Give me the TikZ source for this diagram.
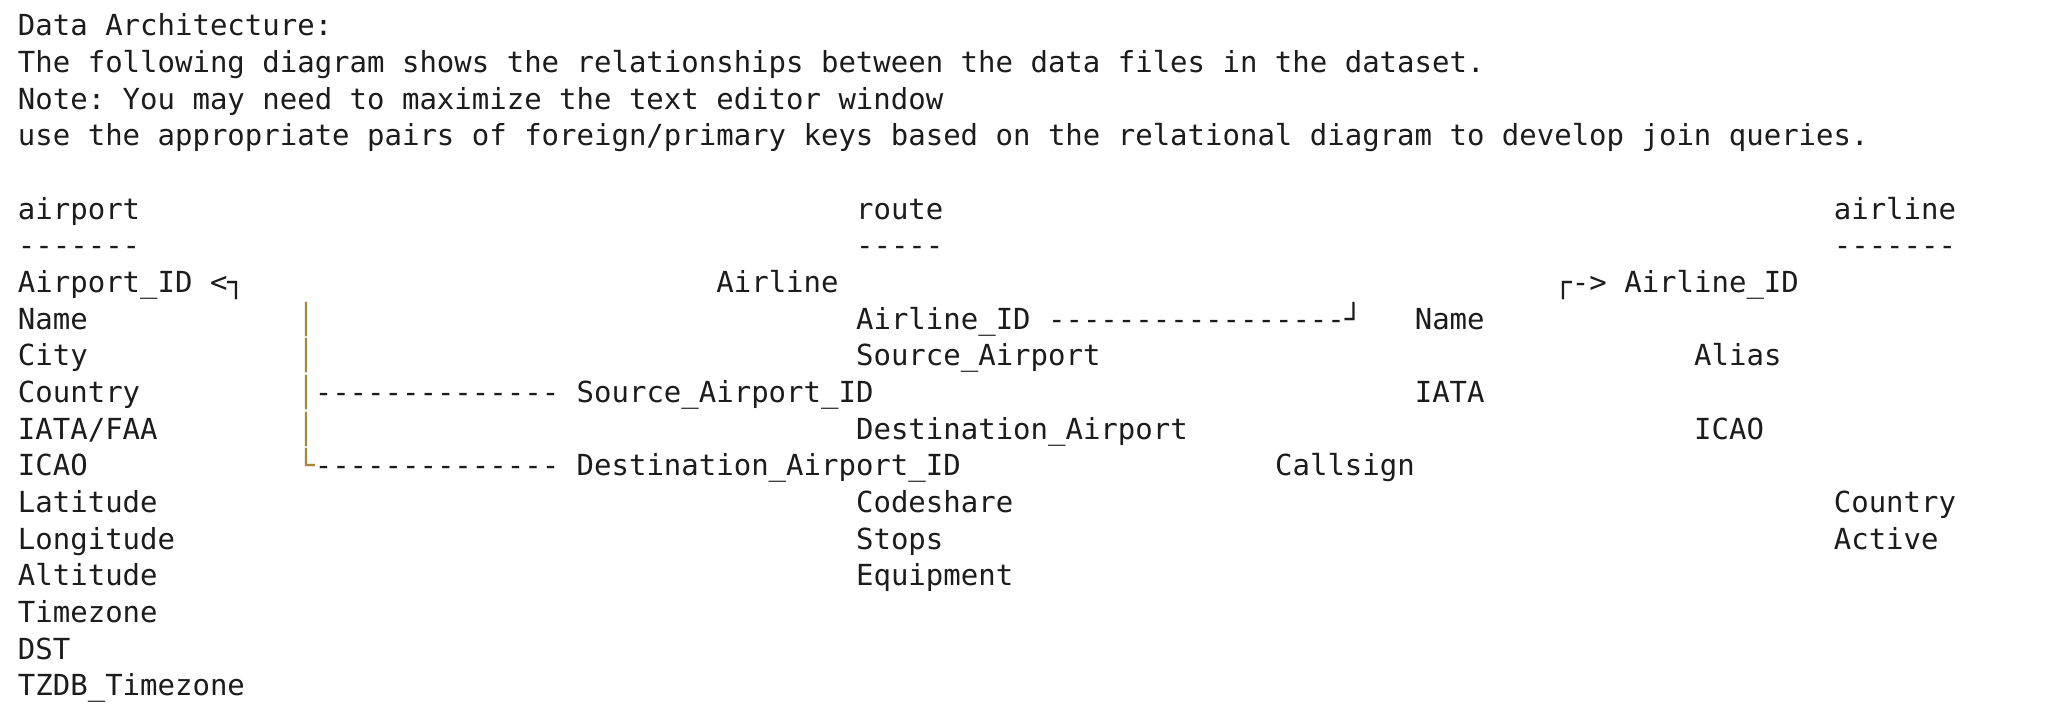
\documentclass[tikz,border=0pt]{standalone}
\usepackage{fontspec}
\setmonofont{DejaVu Sans Mono}
\definecolor{ink}{HTML}{1C1C1C}
\definecolor{bar}{HTML}{A8893A}
\tikzset{
  cell/.style={anchor=base west, inner sep=0pt, outer sep=0pt, text=ink,
    font=\ttfamily\fontsize{14.5}{18}\selectfont},
  barcell/.style={cell, text=bar}
}
\newcommand\txt[5][cell]{\node[#1] (#2) at ({9pt+#3*8.73pt},{-(18pt+#4*18.33pt)}) {#5};}
\begin{document}
\begin{tikzpicture}
\useasboundingbox[fill=white] (0,0) rectangle (1023pt,-363.5pt);
% header
\txt{h0}{0}{0}{Data Architecture:}
\txt{h1}{0}{1}{The following diagram shows the relationships between the data files in the dataset.}
\txt{h2}{0}{2}{Note: You may need to maximize the text editor window}
\txt{h3}{0}{3}{use the appropriate pairs of foreign/primary keys based on the relational diagram to develop join queries.}
% table titles
\txt{tap}{0}{5}{airport}
\txt{trt}{48}{5}{route}
\txt{tal}{104}{5}{airline}
\txt{uap}{0}{6}{-------}
\txt{urt}{48}{6}{-----}
\txt{ual}{104}{6}{-------}
% airport columns
\txt{a1}{0}{7}{Airport\_ID <┐}
\txt{a2}{0}{8}{Name}
\txt{a3}{0}{9}{City}
\txt{a4}{0}{10}{Country}
\txt{a5}{0}{11}{IATA/FAA}
\txt{a6}{0}{12}{ICAO}
\txt{a7}{0}{13}{Latitude}
\txt{a8}{0}{14}{Longitude}
\txt{a9}{0}{15}{Altitude}
\txt{a10}{0}{16}{Timezone}
\txt{a11}{0}{17}{DST}
\txt{a12}{0}{18}{TZDB\_Timezone}
% connector bars
\txt[barcell]{b1}{16}{8}{│}
\txt[barcell]{b2}{16}{9}{│}
\txt[barcell]{b3}{16}{10}{│}
\txt[barcell]{b4}{16}{11}{│}
\txt[barcell]{b5}{16}{12}{└}
\txt{d1}{17}{10}{-------------- Source\_Airport\_ID}
\txt{d2}{17}{12}{-------------- Destination\_Airport\_ID}
% route columns
\txt{r0}{40}{7}{Airline}
\txt{r1}{48}{8}{Airline\_ID -----------------┘}
\txt{r2}{48}{9}{Source\_Airport}
\txt{r3}{48}{11}{Destination\_Airport}
\txt{r4}{48}{13}{Codeshare}
\txt{r5}{48}{14}{Stops}
\txt{r6}{48}{15}{Equipment}
% airline columns
\txt{l1}{88}{7}{┌-> Airline\_ID}
\txt{l2}{80}{8}{Name}
\txt{l3}{96}{9}{Alias}
\txt{l4}{80}{10}{IATA}
\txt{l5}{96}{11}{ICAO}
\txt{l6}{72}{12}{Callsign}
\txt{l7}{104}{13}{Country}
\txt{l8}{104}{14}{Active}
\end{tikzpicture}
\end{document}
